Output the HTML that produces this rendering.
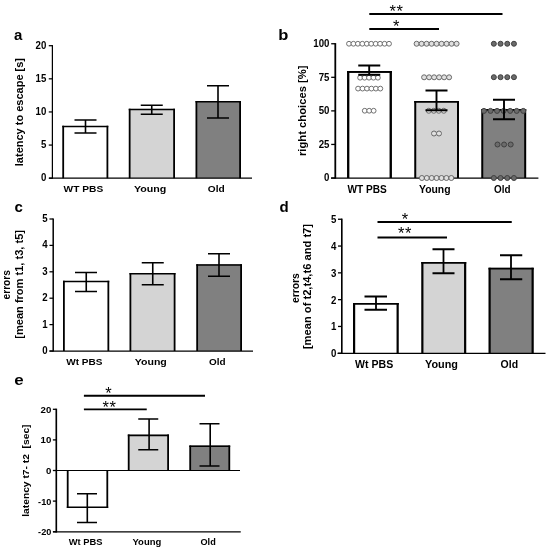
<!DOCTYPE html>
<html lang="en">
<head>
<meta charset="utf-8">
<title>Figure: behavioural test bar charts (panels a-e)</title>
<style>
html,body{margin:0;padding:0;background:#fff;}
body{width:548px;height:550px;overflow:hidden;}
svg{display:block;font-family:"Liberation Sans", Arial, sans-serif;}
text{white-space:pre;}
</style>
</head>
<body>
<svg width="548" height="550" viewBox="0 0 548 550">
<rect x="0" y="0" width="548" height="550" fill="#fff"/>
<g id="panel-a">
<text x="14.00" y="40.20" font-size="15" font-weight="bold" text-anchor="start" fill="#000">a</text>
<path d="M52.40 45.08L52.40 178.70" stroke="#000" stroke-width="1.25" fill="none"/>
<path d="M48.77 45.70L52.40 45.70" stroke="#000" stroke-width="1.25" fill="none"/>
<text x="46.30" y="48.78" font-size="10" font-weight="bold" text-anchor="end" fill="#000" textLength="10.76" lengthAdjust="spacingAndGlyphs">20</text>
<path d="M48.77 78.82L52.40 78.82" stroke="#000" stroke-width="1.25" fill="none"/>
<text x="46.30" y="81.90" font-size="10" font-weight="bold" text-anchor="end" fill="#000" textLength="10.76" lengthAdjust="spacingAndGlyphs">15</text>
<path d="M48.77 111.95L52.40 111.95" stroke="#000" stroke-width="1.25" fill="none"/>
<text x="46.30" y="115.03" font-size="10" font-weight="bold" text-anchor="end" fill="#000" textLength="10.76" lengthAdjust="spacingAndGlyphs">10</text>
<path d="M48.77 145.07L52.40 145.07" stroke="#000" stroke-width="1.25" fill="none"/>
<text x="46.30" y="148.16" font-size="10" font-weight="bold" text-anchor="end" fill="#000" textLength="5.38" lengthAdjust="spacingAndGlyphs">5</text>
<path d="M48.77 178.20L52.40 178.20" stroke="#000" stroke-width="1.25" fill="none"/>
<text x="46.30" y="181.28" font-size="10" font-weight="bold" text-anchor="end" fill="#000" textLength="5.38" lengthAdjust="spacingAndGlyphs">0</text>
<text transform="translate(23.00 166.20) rotate(-90)" x="0" y="0" font-size="10.5" font-weight="bold" textLength="108.20" lengthAdjust="spacingAndGlyphs" fill="#000">latency to escape [s]</text>
<rect x="63.20" y="125.75" width="44.20" height="52.45" fill="#fff"/>
<path d="M63.20 178.20V125.75M107.40 178.20V125.75" fill="none" stroke="#000" stroke-width="1.8"/>
<path d="M62.30 126.50H108.30" fill="none" stroke="#000" stroke-width="1.5"/>
<rect x="129.65" y="108.75" width="44.45" height="69.45" fill="#d4d4d4"/>
<path d="M129.65 178.20V108.75M174.10 178.20V108.75" fill="none" stroke="#000" stroke-width="1.8"/>
<path d="M128.75 109.50H175.00" fill="none" stroke="#000" stroke-width="1.5"/>
<rect x="196.40" y="101.00" width="43.70" height="77.20" fill="#808080"/>
<path d="M196.40 178.20V101.00M240.10 178.20V101.00" fill="none" stroke="#000" stroke-width="1.8"/>
<path d="M195.50 101.75H241.00" fill="none" stroke="#000" stroke-width="1.5"/>
<path d="M49.00 178.20L252.00 178.20" stroke="#000" stroke-width="1.25" fill="none"/>
<path d="M74.50 120.00H96.50M74.50 133.00H96.50M85.50 120.00V133.00" fill="none" stroke="#000" stroke-width="1.6"/>
<path d="M140.75 105.25H162.75M140.75 114.25H162.75M151.75 105.25V114.25" fill="none" stroke="#000" stroke-width="1.6"/>
<path d="M207.00 85.75H229.00M207.00 118.00H229.00M218.00 85.75V118.00" fill="none" stroke="#000" stroke-width="1.6"/>
<text x="63.60" y="192.40" font-size="9.9" font-weight="bold" text-anchor="start" fill="#000" textLength="39.60" lengthAdjust="spacingAndGlyphs">WT PBS</text>
<text x="133.90" y="192.40" font-size="9.9" font-weight="bold" text-anchor="start" fill="#000" textLength="32.40" lengthAdjust="spacingAndGlyphs">Young</text>
<text x="207.80" y="192.40" font-size="9.9" font-weight="bold" text-anchor="start" fill="#000" textLength="16.90" lengthAdjust="spacingAndGlyphs">Old</text>
</g>
<g id="panel-b">
<text x="278.30" y="39.60" font-size="15" font-weight="bold" text-anchor="start" fill="#000" textLength="10.10" lengthAdjust="spacingAndGlyphs">b</text>
<path d="M335.30 43.10L335.30 178.62" stroke="#000" stroke-width="1.8" fill="none"/>
<path d="M331.20 43.75L335.30 43.75" stroke="#000" stroke-width="1.3" fill="none"/>
<text x="329.50" y="46.97" font-size="10.4" font-weight="bold" text-anchor="end" fill="#000" textLength="16.14" lengthAdjust="spacingAndGlyphs">100</text>
<path d="M331.20 77.31L335.30 77.31" stroke="#000" stroke-width="1.3" fill="none"/>
<text x="329.50" y="80.54" font-size="10.4" font-weight="bold" text-anchor="end" fill="#000" textLength="10.76" lengthAdjust="spacingAndGlyphs">75</text>
<path d="M331.20 110.88L335.30 110.88" stroke="#000" stroke-width="1.3" fill="none"/>
<text x="329.50" y="114.10" font-size="10.4" font-weight="bold" text-anchor="end" fill="#000" textLength="10.76" lengthAdjust="spacingAndGlyphs">50</text>
<path d="M331.20 144.44L335.30 144.44" stroke="#000" stroke-width="1.3" fill="none"/>
<text x="329.50" y="147.66" font-size="10.4" font-weight="bold" text-anchor="end" fill="#000" textLength="10.76" lengthAdjust="spacingAndGlyphs">25</text>
<path d="M331.20 178.00L335.30 178.00" stroke="#000" stroke-width="1.3" fill="none"/>
<text x="329.50" y="181.22" font-size="10.4" font-weight="bold" text-anchor="end" fill="#000" textLength="5.38" lengthAdjust="spacingAndGlyphs">0</text>
<text transform="translate(305.80 156.00) rotate(-90)" x="0" y="0" font-size="10.8" font-weight="bold" textLength="90.50" lengthAdjust="spacingAndGlyphs" fill="#000">right choices [%]</text>
<circle cx="348.98" cy="43.75" r="2.4" fill="#fff" stroke="#707070" stroke-width="1.0"/>
<circle cx="353.43" cy="43.75" r="2.4" fill="#fff" stroke="#707070" stroke-width="1.0"/>
<circle cx="357.88" cy="43.75" r="2.4" fill="#fff" stroke="#707070" stroke-width="1.0"/>
<circle cx="362.33" cy="43.75" r="2.4" fill="#fff" stroke="#707070" stroke-width="1.0"/>
<circle cx="366.78" cy="43.75" r="2.4" fill="#fff" stroke="#707070" stroke-width="1.0"/>
<circle cx="371.23" cy="43.75" r="2.4" fill="#fff" stroke="#707070" stroke-width="1.0"/>
<circle cx="375.68" cy="43.75" r="2.4" fill="#fff" stroke="#707070" stroke-width="1.0"/>
<circle cx="380.12" cy="43.75" r="2.4" fill="#fff" stroke="#707070" stroke-width="1.0"/>
<circle cx="384.58" cy="43.75" r="2.4" fill="#fff" stroke="#707070" stroke-width="1.0"/>
<circle cx="389.03" cy="43.75" r="2.4" fill="#fff" stroke="#707070" stroke-width="1.0"/>
<path d="M348.20 177.90V71.00M390.75 177.90V71.00" fill="none" stroke="#000" stroke-width="2.0"/>
<path d="M347.20 71.85H391.75" fill="none" stroke="#000" stroke-width="1.7"/>
<circle cx="360.10" cy="77.70" r="2.4" fill="#fff" stroke="#707070" stroke-width="1.0"/>
<circle cx="364.55" cy="77.70" r="2.4" fill="#fff" stroke="#707070" stroke-width="1.0"/>
<circle cx="369.00" cy="77.70" r="2.4" fill="#fff" stroke="#707070" stroke-width="1.0"/>
<circle cx="373.45" cy="77.70" r="2.4" fill="#fff" stroke="#707070" stroke-width="1.0"/>
<circle cx="377.90" cy="77.70" r="2.4" fill="#fff" stroke="#707070" stroke-width="1.0"/>
<circle cx="358.07" cy="88.60" r="2.4" fill="#fff" stroke="#707070" stroke-width="1.0"/>
<circle cx="362.52" cy="88.60" r="2.4" fill="#fff" stroke="#707070" stroke-width="1.0"/>
<circle cx="366.97" cy="88.60" r="2.4" fill="#fff" stroke="#707070" stroke-width="1.0"/>
<circle cx="371.43" cy="88.60" r="2.4" fill="#fff" stroke="#707070" stroke-width="1.0"/>
<circle cx="375.88" cy="88.60" r="2.4" fill="#fff" stroke="#707070" stroke-width="1.0"/>
<circle cx="380.32" cy="88.60" r="2.4" fill="#fff" stroke="#707070" stroke-width="1.0"/>
<circle cx="364.75" cy="110.75" r="2.4" fill="#fff" stroke="#707070" stroke-width="1.0"/>
<circle cx="369.20" cy="110.75" r="2.4" fill="#fff" stroke="#707070" stroke-width="1.0"/>
<circle cx="373.65" cy="110.75" r="2.4" fill="#fff" stroke="#707070" stroke-width="1.0"/>
<path d="M348.20 177.90V71.00M390.75 177.90V71.00" fill="none" stroke="#000" stroke-width="2.0"/>
<path d="M347.20 71.85H391.75" fill="none" stroke="#000" stroke-width="1.7"/>
<path d="M358.25 65.50H380.25M358.25 74.75H380.25M369.20 65.50V74.75" fill="none" stroke="#000" stroke-width="1.9"/>
<rect x="415.25" y="101.00" width="42.75" height="76.90" fill="#d4d4d4"/>
<path d="M415.25 177.90V101.00M458.00 177.90V101.00" fill="none" stroke="#000" stroke-width="2.0"/>
<path d="M414.25 101.85H459.00" fill="none" stroke="#000" stroke-width="1.7"/>
<circle cx="416.60" cy="43.75" r="2.5" fill="#e0e0e0" stroke="#6a6a6a" stroke-width="1.0"/>
<circle cx="421.60" cy="43.75" r="2.5" fill="#e0e0e0" stroke="#6a6a6a" stroke-width="1.0"/>
<circle cx="426.60" cy="43.75" r="2.5" fill="#e0e0e0" stroke="#6a6a6a" stroke-width="1.0"/>
<circle cx="431.60" cy="43.75" r="2.5" fill="#e0e0e0" stroke="#6a6a6a" stroke-width="1.0"/>
<circle cx="436.60" cy="43.75" r="2.5" fill="#e0e0e0" stroke="#6a6a6a" stroke-width="1.0"/>
<circle cx="441.60" cy="43.75" r="2.5" fill="#e0e0e0" stroke="#6a6a6a" stroke-width="1.0"/>
<circle cx="446.60" cy="43.75" r="2.5" fill="#e0e0e0" stroke="#6a6a6a" stroke-width="1.0"/>
<circle cx="451.60" cy="43.75" r="2.5" fill="#e0e0e0" stroke="#6a6a6a" stroke-width="1.0"/>
<circle cx="456.60" cy="43.75" r="2.5" fill="#e0e0e0" stroke="#6a6a6a" stroke-width="1.0"/>
<circle cx="424.10" cy="77.30" r="2.5" fill="#e0e0e0" stroke="#6a6a6a" stroke-width="1.0"/>
<circle cx="429.10" cy="77.30" r="2.5" fill="#e0e0e0" stroke="#6a6a6a" stroke-width="1.0"/>
<circle cx="434.10" cy="77.30" r="2.5" fill="#e0e0e0" stroke="#6a6a6a" stroke-width="1.0"/>
<circle cx="439.10" cy="77.30" r="2.5" fill="#e0e0e0" stroke="#6a6a6a" stroke-width="1.0"/>
<circle cx="444.10" cy="77.30" r="2.5" fill="#e0e0e0" stroke="#6a6a6a" stroke-width="1.0"/>
<circle cx="449.10" cy="77.30" r="2.5" fill="#e0e0e0" stroke="#6a6a6a" stroke-width="1.0"/>
<circle cx="428.80" cy="110.75" r="2.5" fill="#e0e0e0" stroke="#6a6a6a" stroke-width="1.0"/>
<circle cx="433.80" cy="110.75" r="2.5" fill="#e0e0e0" stroke="#6a6a6a" stroke-width="1.0"/>
<circle cx="438.80" cy="110.75" r="2.5" fill="#e0e0e0" stroke="#6a6a6a" stroke-width="1.0"/>
<circle cx="443.80" cy="110.75" r="2.5" fill="#e0e0e0" stroke="#6a6a6a" stroke-width="1.0"/>
<circle cx="434.00" cy="133.50" r="2.5" fill="#e0e0e0" stroke="#6a6a6a" stroke-width="1.0"/>
<circle cx="439.00" cy="133.50" r="2.5" fill="#e0e0e0" stroke="#6a6a6a" stroke-width="1.0"/>
<path d="M425.50 90.50H447.50M425.50 110.25H447.50M436.50 90.50V110.25" fill="none" stroke="#000" stroke-width="1.9"/>
<rect x="482.25" y="109.00" width="42.95" height="68.90" fill="#808080"/>
<path d="M482.25 177.90V109.00M525.20 177.90V109.00" fill="none" stroke="#000" stroke-width="2.0"/>
<path d="M481.25 109.85H526.20" fill="none" stroke="#000" stroke-width="1.7"/>
<circle cx="493.85" cy="43.75" r="2.5" fill="#6b6b6b" stroke="#404040" stroke-width="1.0"/>
<circle cx="500.55" cy="43.75" r="2.5" fill="#6b6b6b" stroke="#404040" stroke-width="1.0"/>
<circle cx="507.25" cy="43.75" r="2.5" fill="#6b6b6b" stroke="#404040" stroke-width="1.0"/>
<circle cx="513.95" cy="43.75" r="2.5" fill="#6b6b6b" stroke="#404040" stroke-width="1.0"/>
<circle cx="493.85" cy="77.20" r="2.5" fill="#6b6b6b" stroke="#404040" stroke-width="1.0"/>
<circle cx="500.55" cy="77.20" r="2.5" fill="#6b6b6b" stroke="#404040" stroke-width="1.0"/>
<circle cx="507.25" cy="77.20" r="2.5" fill="#6b6b6b" stroke="#404040" stroke-width="1.0"/>
<circle cx="513.95" cy="77.20" r="2.5" fill="#6b6b6b" stroke="#404040" stroke-width="1.0"/>
<circle cx="483.95" cy="110.90" r="2.5" fill="#6b6b6b" stroke="#404040" stroke-width="1.0"/>
<circle cx="490.50" cy="110.90" r="2.5" fill="#6b6b6b" stroke="#404040" stroke-width="1.0"/>
<circle cx="497.05" cy="110.90" r="2.5" fill="#6b6b6b" stroke="#404040" stroke-width="1.0"/>
<circle cx="503.60" cy="110.90" r="2.5" fill="#6b6b6b" stroke="#404040" stroke-width="1.0"/>
<circle cx="510.15" cy="110.90" r="2.5" fill="#6b6b6b" stroke="#404040" stroke-width="1.0"/>
<circle cx="516.70" cy="110.90" r="2.5" fill="#6b6b6b" stroke="#404040" stroke-width="1.0"/>
<circle cx="523.25" cy="110.90" r="2.5" fill="#6b6b6b" stroke="#404040" stroke-width="1.0"/>
<circle cx="497.50" cy="144.50" r="2.5" fill="#6b6b6b" stroke="#404040" stroke-width="1.0"/>
<circle cx="504.10" cy="144.50" r="2.5" fill="#6b6b6b" stroke="#404040" stroke-width="1.0"/>
<circle cx="510.70" cy="144.50" r="2.5" fill="#6b6b6b" stroke="#404040" stroke-width="1.0"/>
<path d="M493.00 99.75H515.00M493.00 119.25H515.00M504.00 99.75V119.25" fill="none" stroke="#000" stroke-width="1.9"/>
<path d="M331.00 178.10L538.40 178.10" stroke="#000" stroke-width="1.2" fill="none"/>
<circle cx="421.90" cy="178.00" r="2.5" fill="#e0e0e0" stroke="#6a6a6a" stroke-width="1.0"/>
<circle cx="426.80" cy="178.00" r="2.5" fill="#e0e0e0" stroke="#6a6a6a" stroke-width="1.0"/>
<circle cx="431.70" cy="178.00" r="2.5" fill="#e0e0e0" stroke="#6a6a6a" stroke-width="1.0"/>
<circle cx="436.60" cy="178.00" r="2.5" fill="#e0e0e0" stroke="#6a6a6a" stroke-width="1.0"/>
<circle cx="441.50" cy="178.00" r="2.5" fill="#e0e0e0" stroke="#6a6a6a" stroke-width="1.0"/>
<circle cx="446.40" cy="178.00" r="2.5" fill="#e0e0e0" stroke="#6a6a6a" stroke-width="1.0"/>
<circle cx="451.30" cy="178.00" r="2.5" fill="#e0e0e0" stroke="#6a6a6a" stroke-width="1.0"/>
<circle cx="493.85" cy="178.00" r="2.5" fill="#6b6b6b" stroke="#404040" stroke-width="1.0"/>
<circle cx="500.55" cy="178.00" r="2.5" fill="#6b6b6b" stroke="#404040" stroke-width="1.0"/>
<circle cx="507.25" cy="178.00" r="2.5" fill="#6b6b6b" stroke="#404040" stroke-width="1.0"/>
<circle cx="513.95" cy="178.00" r="2.5" fill="#6b6b6b" stroke="#404040" stroke-width="1.0"/>
<text x="347.50" y="192.80" font-size="10.3" font-weight="bold" text-anchor="start" fill="#000" textLength="39.25" lengthAdjust="spacingAndGlyphs">WT PBS</text>
<text x="419.00" y="192.80" font-size="10.3" font-weight="bold" text-anchor="start" fill="#000" textLength="31.50" lengthAdjust="spacingAndGlyphs">Young</text>
<text x="494.00" y="192.80" font-size="10.3" font-weight="bold" text-anchor="start" fill="#000" textLength="16.50" lengthAdjust="spacingAndGlyphs">Old</text>
<path d="M369.30 14.00L502.50 14.00" stroke="#000" stroke-width="1.8" fill="none"/>
<path d="M369.30 29.00L439.00 29.00" stroke="#000" stroke-width="1.8" fill="none"/>
<text x="396.50" y="17.20" font-size="16.5" font-weight="normal" text-anchor="middle" letter-spacing="0.6" fill="#000">**</text>
<text x="396.50" y="32.20" font-size="16.5" font-weight="normal" text-anchor="middle" letter-spacing="0.6" fill="#000">*</text>
</g>
<g id="panel-c">
<text x="14.40" y="212.00" font-size="15" font-weight="bold" text-anchor="start" fill="#000">c</text>
<path d="M53.20 218.38L53.20 351.50" stroke="#000" stroke-width="1.5" fill="none"/>
<path d="M49.45 351.00L53.20 351.00" stroke="#000" stroke-width="1.25" fill="none"/>
<text x="47.70" y="354.08" font-size="10" font-weight="bold" text-anchor="end" fill="#000" textLength="5.38" lengthAdjust="spacingAndGlyphs">0</text>
<path d="M49.45 324.60L53.20 324.60" stroke="#000" stroke-width="1.25" fill="none"/>
<text x="47.70" y="327.68" font-size="10" font-weight="bold" text-anchor="end" fill="#000" textLength="5.38" lengthAdjust="spacingAndGlyphs">1</text>
<path d="M49.45 298.20L53.20 298.20" stroke="#000" stroke-width="1.25" fill="none"/>
<text x="47.70" y="301.28" font-size="10" font-weight="bold" text-anchor="end" fill="#000" textLength="5.38" lengthAdjust="spacingAndGlyphs">2</text>
<path d="M49.45 271.80L53.20 271.80" stroke="#000" stroke-width="1.25" fill="none"/>
<text x="47.70" y="274.88" font-size="10" font-weight="bold" text-anchor="end" fill="#000" textLength="5.38" lengthAdjust="spacingAndGlyphs">3</text>
<path d="M49.45 245.40L53.20 245.40" stroke="#000" stroke-width="1.25" fill="none"/>
<text x="47.70" y="248.48" font-size="10" font-weight="bold" text-anchor="end" fill="#000" textLength="5.38" lengthAdjust="spacingAndGlyphs">4</text>
<path d="M49.45 219.00L53.20 219.00" stroke="#000" stroke-width="1.25" fill="none"/>
<text x="47.70" y="222.08" font-size="10" font-weight="bold" text-anchor="end" fill="#000" textLength="5.38" lengthAdjust="spacingAndGlyphs">5</text>
<text transform="translate(10.40 299.50) rotate(-90)" x="0" y="0" font-size="10.2" font-weight="bold" textLength="29.50" lengthAdjust="spacingAndGlyphs" fill="#000">errors</text>
<text transform="translate(23.20 338.75) rotate(-90)" x="0" y="0" font-size="10.2" font-weight="bold" textLength="108.75" lengthAdjust="spacingAndGlyphs" fill="#000">[mean from t1, t3, t5]</text>
<rect x="63.90" y="280.75" width="44.45" height="70.25" fill="#fff"/>
<path d="M63.90 351.00V280.75M108.35 351.00V280.75" fill="none" stroke="#000" stroke-width="1.8"/>
<path d="M63.00 281.50H109.25" fill="none" stroke="#000" stroke-width="1.5"/>
<rect x="130.40" y="273.00" width="44.20" height="78.00" fill="#d4d4d4"/>
<path d="M130.40 351.00V273.00M174.60 351.00V273.00" fill="none" stroke="#000" stroke-width="1.8"/>
<path d="M129.50 273.75H175.50" fill="none" stroke="#000" stroke-width="1.5"/>
<rect x="197.15" y="264.25" width="43.95" height="86.75" fill="#808080"/>
<path d="M197.15 351.00V264.25M241.10 351.00V264.25" fill="none" stroke="#000" stroke-width="1.8"/>
<path d="M196.25 265.00H242.00" fill="none" stroke="#000" stroke-width="1.5"/>
<path d="M49.50 351.00L253.00 351.00" stroke="#000" stroke-width="1.25" fill="none"/>
<path d="M75.00 272.50H97.00M75.00 291.50H97.00M86.25 272.50V291.50" fill="none" stroke="#000" stroke-width="1.6"/>
<path d="M141.75 262.75H163.75M141.75 284.75H163.75M152.75 262.75V284.75" fill="none" stroke="#000" stroke-width="1.6"/>
<path d="M208.00 253.75H230.00M208.00 276.25H230.00M219.00 253.75V276.25" fill="none" stroke="#000" stroke-width="1.6"/>
<text x="66.25" y="365.30" font-size="9.9" font-weight="bold" text-anchor="start" fill="#000" textLength="36.25" lengthAdjust="spacingAndGlyphs">Wt PBS</text>
<text x="134.80" y="365.30" font-size="9.9" font-weight="bold" text-anchor="start" fill="#000" textLength="32.00" lengthAdjust="spacingAndGlyphs">Young</text>
<text x="209.00" y="365.30" font-size="9.9" font-weight="bold" text-anchor="start" fill="#000" textLength="16.60" lengthAdjust="spacingAndGlyphs">Old</text>
</g>
<g id="panel-d">
<text x="279.50" y="211.80" font-size="15" font-weight="bold" text-anchor="start" fill="#000">d</text>
<path d="M341.80 218.60L341.80 353.88" stroke="#000" stroke-width="1.65" fill="none"/>
<path d="M337.98 353.25L341.80 353.25" stroke="#000" stroke-width="1.3" fill="none"/>
<text x="336.50" y="357.13" font-size="10" font-weight="bold" text-anchor="end" fill="#000" textLength="5.38" lengthAdjust="spacingAndGlyphs">0</text>
<path d="M337.98 326.45L341.80 326.45" stroke="#000" stroke-width="1.3" fill="none"/>
<text x="336.50" y="330.33" font-size="10" font-weight="bold" text-anchor="end" fill="#000" textLength="5.38" lengthAdjust="spacingAndGlyphs">1</text>
<path d="M337.98 299.65L341.80 299.65" stroke="#000" stroke-width="1.3" fill="none"/>
<text x="336.50" y="303.53" font-size="10" font-weight="bold" text-anchor="end" fill="#000" textLength="5.38" lengthAdjust="spacingAndGlyphs">2</text>
<path d="M337.98 272.85L341.80 272.85" stroke="#000" stroke-width="1.3" fill="none"/>
<text x="336.50" y="276.73" font-size="10" font-weight="bold" text-anchor="end" fill="#000" textLength="5.38" lengthAdjust="spacingAndGlyphs">3</text>
<path d="M337.98 246.05L341.80 246.05" stroke="#000" stroke-width="1.3" fill="none"/>
<text x="336.50" y="249.93" font-size="10" font-weight="bold" text-anchor="end" fill="#000" textLength="5.38" lengthAdjust="spacingAndGlyphs">4</text>
<path d="M337.98 219.25L341.80 219.25" stroke="#000" stroke-width="1.3" fill="none"/>
<text x="336.50" y="223.13" font-size="10" font-weight="bold" text-anchor="end" fill="#000" textLength="5.38" lengthAdjust="spacingAndGlyphs">5</text>
<text transform="translate(299.30 303.10) rotate(-90)" x="0" y="0" font-size="10.6" font-weight="bold" textLength="29.90" lengthAdjust="spacingAndGlyphs" fill="#000">errors</text>
<text transform="translate(311.10 349.10) rotate(-90)" x="0" y="0" font-size="10.7" font-weight="bold" textLength="125.10" lengthAdjust="spacingAndGlyphs" fill="#000">[mean of t2,t4,t6 and t7]</text>
<rect x="354.10" y="303.00" width="43.55" height="50.25" fill="#fff"/>
<path d="M354.10 353.25V303.00M397.65 353.25V303.00" fill="none" stroke="#000" stroke-width="2.2"/>
<path d="M353.00 303.90H398.75" fill="none" stroke="#000" stroke-width="1.8"/>
<rect x="422.35" y="262.00" width="42.80" height="91.25" fill="#d4d4d4"/>
<path d="M422.35 353.25V262.00M465.15 353.25V262.00" fill="none" stroke="#000" stroke-width="2.2"/>
<path d="M421.25 262.90H466.25" fill="none" stroke="#000" stroke-width="1.8"/>
<rect x="489.60" y="267.75" width="43.05" height="85.50" fill="#808080"/>
<path d="M489.60 353.25V267.75M532.65 353.25V267.75" fill="none" stroke="#000" stroke-width="2.2"/>
<path d="M488.50 268.65H533.75" fill="none" stroke="#000" stroke-width="1.8"/>
<path d="M337.50 353.25L545.50 353.25" stroke="#000" stroke-width="1.25" fill="none"/>
<path d="M364.50 296.50H387.00M364.50 309.75H387.00M376.00 296.50V309.75" fill="none" stroke="#000" stroke-width="1.8"/>
<path d="M432.50 249.25H454.50M432.50 273.25H454.50M443.50 249.25V273.25" fill="none" stroke="#000" stroke-width="1.8"/>
<path d="M500.00 255.25H522.25M500.00 279.25H522.25M511.00 255.25V279.25" fill="none" stroke="#000" stroke-width="1.8"/>
<text x="355.00" y="368.30" font-size="10.3" font-weight="bold" text-anchor="start" fill="#000" textLength="38.20" lengthAdjust="spacingAndGlyphs">Wt PBS</text>
<text x="425.00" y="368.30" font-size="10.3" font-weight="bold" text-anchor="start" fill="#000" textLength="33.00" lengthAdjust="spacingAndGlyphs">Young</text>
<text x="500.60" y="368.30" font-size="10.3" font-weight="bold" text-anchor="start" fill="#000" textLength="17.50" lengthAdjust="spacingAndGlyphs">Old</text>
<path d="M377.50 222.00L511.75 222.00" stroke="#000" stroke-width="1.8" fill="none"/>
<path d="M377.50 237.50L447.00 237.50" stroke="#000" stroke-width="1.8" fill="none"/>
<text x="405.20" y="225.20" font-size="16.5" font-weight="normal" text-anchor="middle" letter-spacing="0.6" fill="#000">*</text>
<text x="405.00" y="239.40" font-size="16.5" font-weight="normal" text-anchor="middle" letter-spacing="0.6" fill="#000">**</text>
</g>
<g id="panel-e">
<text x="14.20" y="385.00" font-size="15" font-weight="bold" text-anchor="start" fill="#000" textLength="9.40" lengthAdjust="spacingAndGlyphs">e</text>
<path d="M56.30 408.65L56.30 532.52" stroke="#000" stroke-width="1.65" fill="none"/>
<path d="M52.87 409.30L56.30 409.30" stroke="#000" stroke-width="1.3" fill="none"/>
<text x="51.40" y="412.75" font-size="8.8" font-weight="bold" text-anchor="end" fill="#000" textLength="10.76" lengthAdjust="spacingAndGlyphs">20</text>
<path d="M52.87 439.90L56.30 439.90" stroke="#000" stroke-width="1.3" fill="none"/>
<text x="51.40" y="443.35" font-size="8.8" font-weight="bold" text-anchor="end" fill="#000" textLength="10.76" lengthAdjust="spacingAndGlyphs">10</text>
<path d="M52.87 470.50L56.30 470.50" stroke="#000" stroke-width="1.3" fill="none"/>
<text x="51.40" y="473.95" font-size="8.8" font-weight="bold" text-anchor="end" fill="#000" textLength="5.38" lengthAdjust="spacingAndGlyphs">0</text>
<path d="M52.87 501.10L56.30 501.10" stroke="#000" stroke-width="1.3" fill="none"/>
<text x="51.40" y="504.55" font-size="8.8" font-weight="bold" text-anchor="end" fill="#000" textLength="13.26" lengthAdjust="spacingAndGlyphs">-10</text>
<path d="M52.87 531.70L56.30 531.70" stroke="#000" stroke-width="1.3" fill="none"/>
<text x="51.40" y="535.15" font-size="8.8" font-weight="bold" text-anchor="end" fill="#000" textLength="13.26" lengthAdjust="spacingAndGlyphs">-20</text>
<text transform="translate(29.40 516.75) rotate(-90)" x="0" y="0" font-size="9.7" font-weight="bold" textLength="92.25" lengthAdjust="spacingAndGlyphs" fill="#000">latency t7- t2  [sec]</text>
<rect x="67.70" y="470.50" width="39.60" height="37.60" fill="#fff"/>
<path d="M67.70 470.50V508.10M107.30 470.50V508.10" fill="none" stroke="#000" stroke-width="1.8"/>
<path d="M66.80 507.30H108.20" fill="none" stroke="#000" stroke-width="1.6"/>
<rect x="128.70" y="434.60" width="39.40" height="35.90" fill="#d4d4d4"/>
<path d="M128.70 470.50V434.60M168.10 470.50V434.60" fill="none" stroke="#000" stroke-width="1.8"/>
<path d="M127.80 435.40H169.00" fill="none" stroke="#000" stroke-width="1.6"/>
<rect x="190.20" y="445.40" width="39.10" height="25.10" fill="#808080"/>
<path d="M190.20 470.50V445.40M229.30 470.50V445.40" fill="none" stroke="#000" stroke-width="1.8"/>
<path d="M189.30 446.20H230.20" fill="none" stroke="#000" stroke-width="1.6"/>
<path d="M53.00 470.50L240.00 470.50" stroke="#000" stroke-width="1.1" fill="none"/>
<path d="M53.00 531.90L240.75 531.90" stroke="#000" stroke-width="1.25" fill="none"/>
<path d="M77.00 493.75H97.00M77.00 522.50H97.00M87.30 493.75V522.50" fill="none" stroke="#000" stroke-width="1.6"/>
<path d="M138.25 419.00H158.25M138.25 449.75H158.25M149.10 419.00V449.75" fill="none" stroke="#000" stroke-width="1.6"/>
<path d="M199.50 423.75H219.50M199.50 466.00H219.50M210.20 423.75V466.00" fill="none" stroke="#000" stroke-width="1.6"/>
<text x="68.75" y="545.00" font-size="8.8" font-weight="bold" text-anchor="start" fill="#000" textLength="33.75" lengthAdjust="spacingAndGlyphs">Wt PBS</text>
<text x="132.50" y="545.00" font-size="8.8" font-weight="bold" text-anchor="start" fill="#000" textLength="28.75" lengthAdjust="spacingAndGlyphs">Young</text>
<text x="200.50" y="545.00" font-size="8.8" font-weight="bold" text-anchor="start" fill="#000" textLength="15.25" lengthAdjust="spacingAndGlyphs">Old</text>
<path d="M83.90 395.75L205.00 395.75" stroke="#000" stroke-width="1.8" fill="none"/>
<path d="M83.90 409.30L146.75 409.30" stroke="#000" stroke-width="1.8" fill="none"/>
<text x="108.75" y="398.95" font-size="16.5" font-weight="normal" text-anchor="middle" letter-spacing="0.6" fill="#000">*</text>
<text x="109.40" y="412.70" font-size="16.5" font-weight="normal" text-anchor="middle" letter-spacing="0.6" fill="#000">**</text>
</g>
</svg>
</body>
</html>
